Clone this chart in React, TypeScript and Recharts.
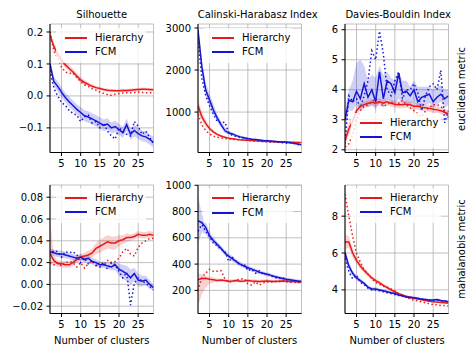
import React from 'react';
import { ComposedChart, Line, Area, XAxis, YAxis, CartesianGrid } from 'recharts';

// number of clusters on the x axis
const clusters = [2, 3, 4, 5, 6, 7, 8, 9, 10, 11, 12, 13, 14, 15, 16, 17, 18, 19, 20, 21, 22, 23, 24, 25, 26, 27, 28, 29];
const xTicks = [5, 10, 15, 20, 25];

// Silhouette, euclidean
const silEuHierMean = [0.19, 0.155, 0.13, 0.112, 0.097, 0.086, 0.075, 0.062, 0.05, 0.042, 0.036, 0.03, 0.026, 0.023, 0.02, 0.018, 0.017, 0.016, 0.016, 0.017, 0.017, 0.018, 0.019, 0.02, 0.021, 0.021, 0.02, 0.019];
const silEuHierDots = [0.2, 0.14, 0.12, 0.09, 0.075, 0.07, 0.072, 0.058, 0.045, 0.035, 0.03, 0.022, 0.018, 0.012, 0.008, 0.004, 0.002, 0.005, 0.007, 0.009, 0.01, 0.01, 0.011, 0.012, 0.011, 0.01, 0.01, 0.01];
const silEuHierLow = [0.178, 0.145, 0.12, 0.102, 0.088, 0.077, 0.066, 0.053, 0.042, 0.035, 0.03, 0.025, 0.021, 0.018, 0.015, 0.013, 0.012, 0.011, 0.011, 0.012, 0.012, 0.013, 0.014, 0.015, 0.016, 0.016, 0.015, 0.014];
const silEuHierHigh = [0.205, 0.168, 0.142, 0.124, 0.108, 0.097, 0.086, 0.072, 0.059, 0.05, 0.043, 0.036, 0.031, 0.028, 0.025, 0.023, 0.022, 0.021, 0.021, 0.022, 0.022, 0.023, 0.024, 0.025, 0.026, 0.026, 0.025, 0.024];
const silEuFcmMean = [0.1, 0.045, 0.03, 0.012, -0.005, -0.018, -0.03, -0.042, -0.052, -0.062, -0.066, -0.072, -0.078, -0.085, -0.092, -0.088, -0.1, -0.096, -0.105, -0.115, -0.09, -0.12, -0.108, -0.118, -0.125, -0.128, -0.136, -0.145];
const silEuFcmDots = [0.08, 0.025, 0.0, -0.02, -0.03, -0.045, -0.055, -0.06, -0.08, -0.065, -0.06, -0.085, -0.08, -0.1, -0.085, -0.11, -0.125, -0.135, -0.1, -0.11, -0.12, -0.125, -0.08, -0.095, -0.12, -0.11, -0.13, -0.15];
const silEuFcmLow = [0.088, 0.03, 0.014, -0.004, -0.02, -0.034, -0.046, -0.058, -0.069, -0.079, -0.084, -0.09, -0.096, -0.103, -0.11, -0.106, -0.117, -0.114, -0.122, -0.132, -0.11, -0.137, -0.126, -0.135, -0.142, -0.145, -0.152, -0.162];
const silEuFcmHigh = [0.112, 0.06, 0.046, 0.028, 0.01, -0.002, -0.014, -0.026, -0.035, -0.045, -0.048, -0.054, -0.06, -0.067, -0.074, -0.07, -0.083, -0.078, -0.088, -0.098, -0.07, -0.103, -0.09, -0.101, -0.108, -0.111, -0.12, -0.128];

// Calinski-Harabasz, euclidean
const chEuHierMean = [1150, 890, 730, 610, 530, 470, 430, 400, 380, 365, 352, 342, 335, 328, 322, 316, 311, 306, 302, 298, 295, 292, 289, 286, 283, 280, 277, 274];
const chEuHierDots = [950, 700, 560, 480, 430, 400, 385, 370, 360, 350, 345, 338, 330, 322, 315, 310, 302, 298, 295, 292, 290, 288, 285, 282, 280, 278, 276, 274];
const chEuHierLow = [1000, 790, 660, 560, 490, 440, 405, 380, 362, 350, 338, 330, 323, 317, 311, 306, 301, 297, 293, 289, 286, 283, 280, 277, 274, 271, 268, 265];
const chEuHierHigh = [1320, 1000, 810, 670, 575, 505, 458, 422, 400, 382, 367, 356, 348, 340, 334, 327, 322, 316, 312, 308, 305, 302, 299, 296, 293, 290, 287, 284];
const chEuFcmMean = [2950, 2080, 1530, 1290, 1050, 860, 700, 560, 500, 480, 440, 410, 390, 370, 355, 345, 335, 325, 318, 310, 302, 295, 288, 280, 268, 255, 240, 220];
const chEuFcmDots = [2750, 1800, 1400, 1150, 950, 780, 740, 760, 520, 440, 420, 400, 380, 360, 340, 330, 320, 300, 310, 290, 300, 280, 270, 260, 270, 250, 230, 200];
const chEuFcmLow = [2800, 1900, 1400, 1150, 950, 780, 630, 500, 460, 440, 405, 380, 362, 344, 330, 321, 312, 303, 296, 289, 282, 275, 268, 261, 250, 238, 224, 205];
const chEuFcmHigh = [3050, 2250, 1700, 1450, 1200, 950, 780, 640, 545, 520, 475, 440, 418, 396, 380, 369, 358, 347, 340, 331, 322, 315, 308, 299, 286, 272, 256, 235];

// Davies-Bouldin, euclidean
const dbEuHierMean = [2.3, 2.7, 2.95, 3.3, 3.45, 3.5, 3.55, 3.58, 3.55, 3.6, 3.55, 3.6, 3.55, 3.52, 3.5, 3.5, 3.52, 3.5, 3.45, 3.45, 3.42, 3.4, 3.38, 3.35, 3.33, 3.3, 3.25, 3.2];
const dbEuHierDots = [2.1, 2.2, 2.5, 3.0, 3.3, 3.45, 3.5, 3.6, 3.7, 3.55, 3.45, 3.5, 3.6, 3.5, 3.55, 3.65, 3.5, 3.4, 3.3, 3.2, 3.1, 3.3, 3.4, 3.5, 3.5, 3.45, 3.3, 3.05];
const dbEuHierLow = [2.1, 2.5, 2.8, 3.15, 3.33, 3.38, 3.43, 3.46, 3.43, 3.48, 3.43, 3.48, 3.43, 3.4, 3.38, 3.38, 3.4, 3.38, 3.33, 3.33, 3.3, 3.28, 3.26, 3.23, 3.21, 3.18, 3.13, 3.08];
const dbEuHierHigh = [2.5, 2.9, 3.1, 3.45, 3.57, 3.62, 3.67, 3.7, 3.67, 3.72, 3.67, 3.72, 3.67, 3.64, 3.62, 3.62, 3.64, 3.62, 3.57, 3.57, 3.54, 3.52, 3.5, 3.47, 3.45, 3.42, 3.37, 3.32];
const dbEuFcmMean = [3.0, 3.65, 3.6, 3.95, 3.7, 4.2, 3.75, 4.0, 3.6, 4.6, 3.7, 4.3, 4.2, 3.9, 4.55, 3.9, 3.95, 3.8, 4.0, 3.6, 3.75, 3.8, 3.85, 3.6, 3.75, 3.85, 3.7, 3.8];
const dbEuFcmDots = [2.2, 3.8, 3.6, 3.7, 3.4, 3.8, 4.3, 5.3, 5.0, 5.95, 5.2, 4.0, 3.8, 4.3, 4.6, 3.7, 4.0, 4.0, 4.2, 3.9, 3.3, 3.8, 4.1, 4.2, 4.0, 4.65, 2.9, 3.3];
const dbEuFcmLow = [2.6, 3.3, 3.3, 3.5, 3.3, 3.5, 3.4, 3.5, 3.35, 3.6, 3.4, 3.7, 3.6, 3.5, 3.7, 3.5, 3.55, 3.5, 3.6, 3.4, 3.45, 3.5, 3.55, 3.4, 3.5, 3.6, 3.4, 3.5];
const dbEuFcmHigh = [3.3, 4.0, 4.3, 4.9, 5.0, 4.8, 4.3, 4.5, 4.4, 4.8, 4.5, 4.6, 4.4, 4.3, 4.6, 4.3, 4.3, 4.1, 4.3, 4.1, 4.1, 4.1, 4.1, 4.0, 4.1, 4.15, 4.0, 4.0];

// Silhouette, mahalanobis
const silMaHierMean = [0.028, 0.022, 0.019, 0.019, 0.018, 0.018, 0.02, 0.023, 0.025, 0.026, 0.027, 0.029, 0.033, 0.035, 0.037, 0.039, 0.038, 0.038, 0.04, 0.041, 0.043, 0.043, 0.044, 0.046, 0.045, 0.045, 0.046, 0.045];
const silMaHierDots = [0.02, 0.018, 0.02, 0.017, 0.02, 0.021, 0.02, 0.016, 0.02, 0.015, 0.019, 0.021, 0.017, 0.02, 0.018, 0.022, 0.02, 0.021, 0.024, 0.03, 0.033, 0.028, 0.026, 0.034, 0.038, 0.04, 0.042, 0.042];
const silMaHierLow = [0.018, 0.018, 0.016, 0.016, 0.015, 0.015, 0.017, 0.02, 0.022, 0.023, 0.023, 0.025, 0.028, 0.029, 0.031, 0.033, 0.032, 0.032, 0.035, 0.037, 0.039, 0.04, 0.041, 0.043, 0.042, 0.042, 0.043, 0.042];
const silMaHierHigh = [0.06, 0.027, 0.022, 0.022, 0.021, 0.021, 0.023, 0.026, 0.028, 0.029, 0.031, 0.033, 0.038, 0.041, 0.043, 0.045, 0.044, 0.044, 0.045, 0.045, 0.047, 0.046, 0.047, 0.049, 0.048, 0.048, 0.049, 0.048];
const silMaFcmMean = [0.03, 0.029, 0.028, 0.028, 0.027, 0.026, 0.025, 0.024, 0.025, 0.023, 0.024, 0.021, 0.02, 0.018, 0.018, 0.017, 0.016, 0.018, 0.014, 0.012, 0.01, 0.006, 0.01, 0.004, 0.003, 0.004, 0.0, -0.003];
const silMaFcmDots = [0.027, 0.031, 0.03, 0.025, 0.03, 0.029, 0.03, 0.027, 0.02, 0.024, 0.019, 0.022, 0.018, 0.016, 0.02, 0.014, 0.02, 0.018, 0.012, 0.006, 0.011, -0.019, 0.001, 0.006, 0.003, 0.001, -0.002, -0.005];
const silMaFcmLow = [0.027, 0.026, 0.025, 0.025, 0.024, 0.023, 0.022, 0.021, 0.022, 0.02, 0.021, 0.018, 0.017, 0.015, 0.015, 0.014, 0.013, 0.013, 0.008, 0.005, 0.003, 0.0, 0.003, -0.002, -0.002, -0.001, -0.004, -0.006];
const silMaFcmHigh = [0.033, 0.032, 0.031, 0.031, 0.03, 0.029, 0.028, 0.027, 0.028, 0.026, 0.027, 0.024, 0.023, 0.021, 0.021, 0.02, 0.019, 0.021, 0.019, 0.018, 0.017, 0.014, 0.015, 0.01, 0.008, 0.008, 0.004, 0.0];

// Calinski-Harabasz, mahalanobis
const chMaHierMean = [280, 290, 292, 285, 280, 275, 278, 275, 270, 272, 275, 270, 272, 275, 272, 270, 268, 270, 272, 270, 268, 270, 272, 270, 268, 268, 266, 265];
const chMaHierDots = [200, 300, 330, 360, 345, 345, 350, 290, 260, 270, 280, 285, 290, 250, 240, 265, 240, 255, 265, 262, 270, 265, 275, 268, 260, 262, 258, 260];
const chMaHierLow = [80, 170, 220, 250, 260, 262, 266, 263, 258, 260, 263, 258, 260, 263, 260, 258, 256, 258, 260, 258, 256, 258, 260, 258, 256, 256, 254, 253];
const chMaHierHigh = [330, 320, 310, 305, 298, 288, 290, 287, 282, 284, 287, 282, 284, 287, 284, 282, 280, 282, 284, 282, 280, 282, 284, 282, 280, 280, 278, 277];
const chMaFcmMean = [730, 715, 680, 615, 580, 550, 520, 485, 460, 440, 418, 400, 385, 372, 362, 350, 338, 330, 322, 314, 305, 298, 290, 284, 280, 276, 272, 268];
const chMaFcmDots = [650, 700, 650, 610, 560, 540, 510, 500, 420, 450, 420, 390, 400, 350, 360, 330, 350, 320, 330, 310, 300, 290, 300, 280, 270, 275, 265, 260];
const chMaFcmLow = [560, 640, 630, 585, 555, 528, 500, 465, 440, 420, 400, 382, 368, 356, 346, 334, 322, 315, 307, 299, 291, 284, 277, 271, 267, 263, 259, 255];
const chMaFcmHigh = [920, 780, 720, 650, 605, 572, 540, 505, 480, 460, 436, 418, 402, 388, 378, 366, 354, 345, 337, 329, 319, 312, 303, 297, 293, 289, 285, 281];

// Davies-Bouldin, mahalanobis
const dbMaHierMean = [6.6, 6.6, 6.0, 5.6, 5.3, 5.05, 4.85, 4.65, 4.5, 4.4, 4.25, 4.12, 4.0, 3.9, 3.8, 3.72, 3.65, 3.6, 3.55, 3.5, 3.46, 3.42, 3.39, 3.36, 3.34, 3.32, 3.3, 3.28];
const dbMaHierDots = [9.2, 8.0, 6.9, 6.0, 5.5, 5.1, 4.85, 4.6, 4.4, 4.3, 4.2, 4.15, 4.05, 3.95, 3.8, 3.7, 3.6, 3.5, 3.45, 3.4, 3.35, 3.3, 3.25, 3.2, 3.2, 3.15, 3.15, 3.12];
const dbMaHierLow = [6.2, 6.3, 5.75, 5.4, 5.12, 4.9, 4.72, 4.53, 4.4, 4.3, 4.16, 4.04, 3.93, 3.83, 3.74, 3.66, 3.6, 3.55, 3.5, 3.45, 3.41, 3.37, 3.34, 3.31, 3.29, 3.27, 3.25, 3.23];
const dbMaHierHigh = [7.0, 6.9, 6.25, 5.8, 5.48, 5.2, 4.98, 4.77, 4.6, 4.5, 4.34, 4.2, 4.07, 3.97, 3.86, 3.78, 3.7, 3.65, 3.6, 3.55, 3.51, 3.47, 3.44, 3.41, 3.39, 3.37, 3.35, 3.33];
const dbMaFcmMean = [6.0, 5.3, 4.9, 4.65, 4.5, 4.35, 4.15, 4.05, 4.05, 4.0, 3.95, 3.9, 3.85, 3.8, 3.72, 3.68, 3.62, 3.6, 3.58, 3.55, 3.5, 3.48, 3.45, 3.45, 3.48, 3.42, 3.4, 3.36];
const dbMaFcmDots = [5.7, 5.0, 4.6, 4.8, 4.4, 4.3, 4.1, 4.0, 4.0, 3.95, 3.9, 3.85, 3.8, 3.75, 3.7, 3.65, 3.6, 3.58, 3.55, 3.5, 3.5, 3.45, 3.42, 3.4, 3.45, 3.4, 3.38, 3.35];
const dbMaFcmLow = [5.7, 5.1, 4.75, 4.52, 4.38, 4.24, 4.05, 3.96, 3.96, 3.92, 3.87, 3.82, 3.78, 3.73, 3.66, 3.62, 3.56, 3.54, 3.52, 3.49, 3.45, 3.43, 3.4, 3.4, 3.43, 3.37, 3.35, 3.31];
const dbMaFcmHigh = [6.3, 5.5, 5.05, 4.78, 4.62, 4.46, 4.25, 4.14, 4.14, 4.08, 4.03, 3.98, 3.92, 3.87, 3.78, 3.74, 3.68, 3.66, 3.64, 3.61, 3.55, 3.53, 3.5, 3.5, 3.53, 3.47, 3.45, 3.41];

const RED = '#e8191a';
const BLUE = '#1515d5';
const FONT = "'DejaVu Sans', sans-serif";

// figure layout (px)
const COL_LEFT = [50, 197.7, 345.4];
const ROW_TOP = [24.3, 185];
const PLOT_W = 103.5;
const PLOT_H = 128.5;
const Y_AXIS_W = 50;
const X_AXIS_H = 20;
const TOP_PAD = 10;
const RIGHT_PAD = 6;

type Curve = { mean: number[]; dots: number[]; low: number[]; high: number[] };

interface PanelSpec {
  title?: string;
  hier: Curve;
  fcm: Curve;
  domain: [number, number];
  ticks: number[];
  fmt: (v: number) => string;
  col: number;
  row: number;
  legendDy: number;
}

const withMinus = (s: string) => s.replace('-', '\u2212');
const fmt1 = (v: number) => withMinus(v.toFixed(1));
const fmt2 = (v: number) => withMinus(v.toFixed(2));
const fmt0 = (v: number) => String(v);

const panels: PanelSpec[] = [
  {
    title: 'Silhouette',
    hier: { mean: silEuHierMean, dots: silEuHierDots, low: silEuHierLow, high: silEuHierHigh },
    fcm: { mean: silEuFcmMean, dots: silEuFcmDots, low: silEuFcmLow, high: silEuFcmHigh },
    domain: [-0.177, 0.225], ticks: [-0.1, 0.0, 0.1, 0.2], fmt: fmt1, col: 0, row: 0, legendDy: 13.4,
  },
  {
    title: 'Calinski-Harabasz Index',
    hier: { mean: chEuHierMean, dots: chEuHierDots, low: chEuHierLow, high: chEuHierHigh },
    fcm: { mean: chEuFcmMean, dots: chEuFcmDots, low: chEuFcmLow, high: chEuFcmHigh },
    domain: [38, 3095], ticks: [1000, 2000, 3000], fmt: fmt0, col: 1, row: 0, legendDy: 13.4,
  },
  {
    title: 'Davies-Bouldin Index',
    hier: { mean: dbEuHierMean, dots: dbEuHierDots, low: dbEuHierLow, high: dbEuHierHigh },
    fcm: { mean: dbEuFcmMean, dots: dbEuFcmDots, low: dbEuFcmLow, high: dbEuFcmHigh },
    domain: [1.91, 6.19], ticks: [2, 3, 4, 5, 6], fmt: fmt0, col: 2, row: 0, legendDy: 98.4,
  },
  {
    hier: { mean: silMaHierMean, dots: silMaHierDots, low: silMaHierLow, high: silMaHierHigh },
    fcm: { mean: silMaFcmMean, dots: silMaFcmDots, low: silMaFcmLow, high: silMaFcmHigh },
    domain: [-0.0267, 0.0912], ticks: [-0.02, 0.0, 0.02, 0.04, 0.06, 0.08], fmt: fmt2, col: 0, row: 1, legendDy: 12.7,
  },
  {
    hier: { mean: chMaHierMean, dots: chMaHierDots, low: chMaHierLow, high: chMaHierHigh },
    fcm: { mean: chMaFcmMean, dots: chMaFcmDots, low: chMaFcmLow, high: chMaFcmHigh },
    domain: [24, 1002], ticks: [200, 400, 600, 800, 1000], fmt: fmt0, col: 1, row: 1, legendDy: 13.3,
  },
  {
    hier: { mean: dbMaHierMean, dots: dbMaHierDots, low: dbMaHierLow, high: dbMaHierHigh },
    fcm: { mean: dbMaFcmMean, dots: dbMaFcmDots, low: dbMaFcmLow, high: dbMaFcmHigh },
    domain: [2.72, 9.69], ticks: [4, 6, 8], fmt: fmt0, col: 2, row: 1, legendDy: 12.7,
  },
];

const LegendBox = ({ x, y }: { x: number; y: number }) => {
  const rows = [
    { name: 'Hierarchy', color: RED },
    { name: 'FCM', color: BLUE },
  ];
  const lx = Math.round(x);
  return (
    <>
      <div
        style={{
          position: 'absolute', left: lx - 9, top: Math.round(y) - 10, width: 90, height: 35,
          background: 'rgba(255,255,255,0.8)', borderRadius: 3,
        }}
      />
      {rows.map((r, i) => {
        const cy = Math.round(y + i * 14.6);
        return (
          <React.Fragment key={r.name}>
            <div style={{ position: 'absolute', left: lx, top: cy - 1, width: 22, height: 2, background: r.color }} />
            <div style={{ position: 'absolute', left: lx + 30, top: cy - 6.5, fontSize: 10, lineHeight: '12px', color: '#000', whiteSpace: 'nowrap' }}>
              {r.name}
            </div>
          </React.Fragment>
        );
      })}
    </>
  );
};

const Panel = ({ spec }: { spec: PanelSpec }) => {
  const data = clusters.map((k, i) => ({
    k,
    hMean: spec.hier.mean[i],
    hDots: spec.hier.dots[i],
    hBand: [spec.hier.low[i], spec.hier.high[i]],
    fMean: spec.fcm.mean[i],
    fDots: spec.fcm.dots[i],
    fBand: [spec.fcm.low[i], spec.fcm.high[i]],
  }));
  const left = COL_LEFT[spec.col];
  const top = ROW_TOP[spec.row];
  const tickStyle = { fill: '#000', fontSize: 10 };

  return (
    <>
      {spec.title && (
        <div style={{ position: 'absolute', left, top: 9, width: PLOT_W, textAlign: 'center', fontSize: 10, lineHeight: '12px', whiteSpace: 'nowrap' }}>
          {spec.title}
        </div>
      )}
      <div style={{ position: 'absolute', left: left - Y_AXIS_W, top: top - TOP_PAD }}>
        <ComposedChart
          width={Y_AXIS_W + PLOT_W + RIGHT_PAD}
          height={TOP_PAD + PLOT_H + X_AXIS_H}
          data={data}
          margin={{ top: TOP_PAD, right: RIGHT_PAD, bottom: 0, left: 0 }}
        >
          <CartesianGrid stroke="#b0b0b0" strokeWidth={0.8} />
          <XAxis
            dataKey="k" type="number" domain={[2, 29]} ticks={xTicks} allowDataOverflow interval={0}
            height={X_AXIS_H} tickSize={3.5} tickMargin={3.5} stroke="#000" tick={tickStyle}
          />
          <XAxis
            xAxisId="top" orientation="top" dataKey="k" type="number" domain={[2, 29]}
            height={0} tick={false} tickLine={false} stroke="#000"
          />
          <YAxis
            type="number" domain={spec.domain} ticks={spec.ticks} allowDataOverflow interval={0}
            width={Y_AXIS_W} tickSize={3.5} tickMargin={3.5} tickFormatter={spec.fmt} stroke="#000" tick={tickStyle}
          />
          <YAxis yAxisId="right" orientation="right" width={0} tick={false} tickLine={false} stroke="#000" />
          <Area dataKey="hBand" type="linear" stroke="none" fill={RED} fillOpacity={0.2} isAnimationActive={false} activeDot={false} />
          <Area dataKey="fBand" type="linear" stroke="none" fill={BLUE} fillOpacity={0.2} isAnimationActive={false} activeDot={false} />
          <Line dataKey="hDots" type="linear" stroke={RED} strokeWidth={1.5} strokeDasharray="1.5 2.5" dot={false} activeDot={false} isAnimationActive={false} />
          <Line dataKey="fDots" type="linear" stroke={BLUE} strokeWidth={1.5} strokeDasharray="1.5 2.5" dot={false} activeDot={false} isAnimationActive={false} />
          <Line dataKey="hMean" type="linear" stroke={RED} strokeWidth={1.5} dot={false} activeDot={false} isAnimationActive={false} />
          <Line dataKey="fMean" type="linear" stroke={BLUE} strokeWidth={1.5} dot={false} activeDot={false} isAnimationActive={false} />
        </ComposedChart>
      </div>
      <LegendBox x={left + 14.5} y={top + spec.legendDy} />
      {spec.row === 1 && (
        <div style={{ position: 'absolute', left, top: 335, width: PLOT_W, textAlign: 'center', fontSize: 10, lineHeight: '12px', whiteSpace: 'nowrap' }}>
          Number of clusters
        </div>
      )}
    </>
  );
};

const SideLabel = ({ text, cy }: { text: string; cy: number }) => (
  <div
    style={{
      position: 'absolute', left: 462 - 70, top: cy - 6, width: 140, textAlign: 'center',
      fontSize: 10, lineHeight: '12px', transform: 'rotate(-90deg)', whiteSpace: 'nowrap',
    }}
  >
    {text}
  </div>
);

export default function App() {
  return (
    <div style={{ position: 'absolute', left: 0, top: 0, width: 474, height: 355, background: '#fff', fontFamily: FONT, color: '#000', overflow: 'hidden' }}>
      {panels.map((p, i) => (
        <Panel key={i} spec={p} />
      ))}
      <SideLabel text="euclidean metric" cy={ROW_TOP[0] + PLOT_H / 2} />
      <SideLabel text="mahalanobis metric" cy={ROW_TOP[1] + PLOT_H / 2} />
    </div>
  );
}
